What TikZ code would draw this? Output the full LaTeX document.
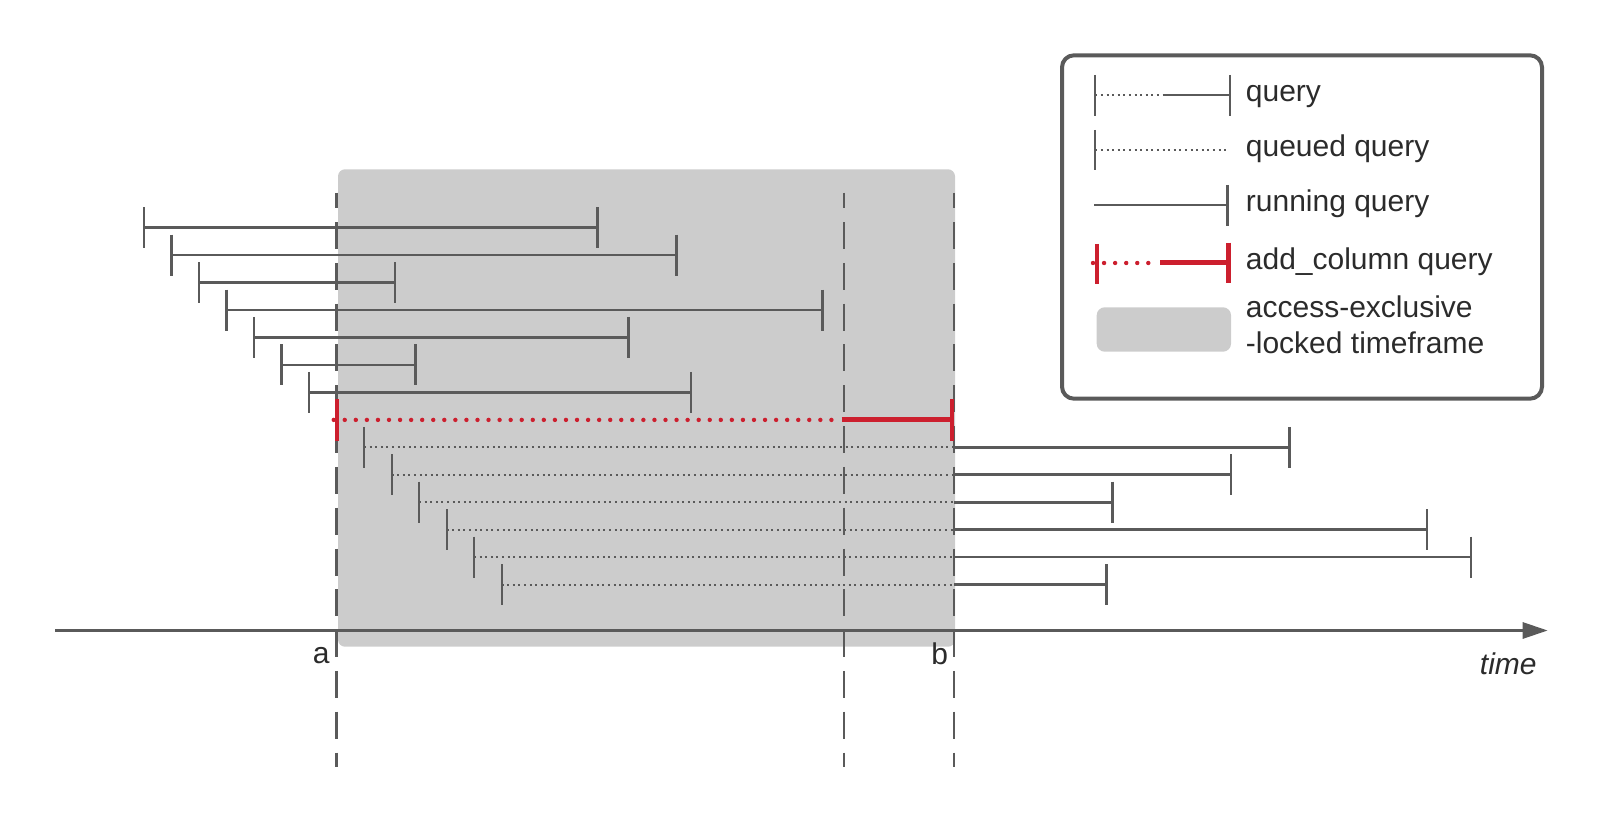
\documentclass[tikz,border=0pt]{standalone}
\usepackage{fontspec}
\setmainfont{Liberation Sans}
\usepackage{xcolor}
\usepackage{tikz}
\usetikzlibrary{arrows.meta,positioning,calc}

\definecolor{lineg}{HTML}{5A5A5A}
\definecolor{lockg}{HTML}{CCCCCC}
\definecolor{addred}{HTML}{CC1F2E}
\definecolor{txt}{HTML}{2B2B2B}

\begin{document}
\begin{tikzpicture}[
  x=0.5pt, y=-0.5pt,
  run/.style={draw=lineg, line width=1.35pt},
  tick/.style={draw=lineg, line width=1.4pt},
  qtick/.style={draw=lineg, line width=1pt},
  qdots/.style={draw=lineg, line width=1pt, dash pattern=on 1pt off 1.8pt},
  rdots/.style={draw=addred, line width=2.2pt, line cap=round, dash pattern=on 0pt off 5.53pt},
  rline/.style={draw=addred, line width=2.5pt},
  rtick/.style={draw=addred, line width=2.2pt},
  vdash/.style={draw=lineg, line width=1.25pt, dash pattern=on 13.5pt off 6.9pt, dash phase=5.7pt},
  lbl/.style={font=\fontsize{15pt}{18pt}\selectfont, text=txt, inner sep=0pt, anchor=base west}
]
\useasboundingbox (0,0) rectangle (1600,823);

% locked timeframe
\fill[lockg, rounded corners=3.5pt] (338,169.3) rectangle (955,646.7);

\coordinate (a) at (336.7,630.5);
\coordinate (c) at (844,630.5);
\coordinate (b) at (954,630.5);
\coordinate (top) at (0,192.7);
\coordinate (bot) at (0,767);
\foreach \p in {a,c,b}
  \draw[vdash] (\p |- top) -- (\p |- bot);

% queries running before a
\foreach \i/\e in {0/597.7,1/676.3,2/395,3/822.3,4/628.7,5/415.3,6/691}{
  \pgfmathsetmacro\xs{144+27.5*\i}
  \pgfmathsetmacro\ys{227.7+27.45*\i}
  \draw[run] (\xs,\ys) -- (\e,\ys);
  \draw[tick] (\xs,\ys-20.5) -- (\xs,\ys+20.5);
  \draw[tick] (\e,\ys-20.5) -- (\e,\ys+20.5);
}

% add_column query
\draw[rdots] (333.7,419.9) -- (831.6,419.9);
\draw[rline] (841.7,419.9) -- (952,419.9);
\draw[rtick] (336.7,399.3) -- (336.7,440.7);
\draw[rtick] (952,399.3) -- (952,440.7);

% queued queries
\foreach \i/\e in {8/1289.7,9/1231,10/1112.5,11/1427,12/1471,13/1106.5}{
  \pgfmathsetmacro\xs{144+27.5*\i}
  \pgfmathsetmacro\ys{227.7+27.45*\i}
  \draw[qdots] (\xs,\ys) -- (954,\ys);
  \draw[run] (954,\ys) -- (\e,\ys);
  \draw[qtick] (\xs,\ys-20.5) -- (\xs,\ys+20.5);
  \draw[tick] (\e,\ys-20.5) -- (\e,\ys+20.5);
}

% time axis
\draw[lineg, line width=1.5pt, -{Triangle[length=12.5pt,width=8pt]}] (55,630.5) -- (1547.7,630.5);
\node[lbl, anchor=base east] (la) at (330,663.3) {a};
\node[lbl, anchor=base east] (lb) at (948.5,664.3) {b};
\node[lbl, anchor=base east, font={\fontsize{15pt}{18pt}\selectfont\itshape}] (lt) at (1537,674) {time};

% legend
\draw[lineg, line width=2pt, rounded corners=6pt] (1062,55.3) rectangle (1542,398.7);
\draw[qtick] (1095.3,75) -- (1095.3,115.7);
\draw[qdots] (1095.3,95) -- (1163,95);
\draw[run] (1163,95) -- (1230,95);
\draw[tick] (1230,75) -- (1230,115.7);
\draw[qtick] (1095.3,130) -- (1095.3,170);
\draw[qdots] (1095.3,150) -- (1229,150);
\draw[run] (1094.3,205) -- (1227.3,205);
\draw[tick] (1227.3,185) -- (1227.3,225.7);
\draw[rdots] (1093,263) -- (1151,263);
\draw[rline] (1160,263) -- (1228.3,263);
\draw[rtick] (1096.7,244) -- (1096.7,284);
\draw[rtick] (1228.3,242.7) -- (1228.3,283.3);
\fill[lockg, rounded corners=4pt] (1096.7,307.3) rectangle (1231,351.7);

\node[lbl] (lq) at (1245.5,101.7) {query};
\node[lbl] (lqq) at (1245.5,156.7) {queued query};
\node[lbl] (lrq) at (1245.5,211.7) {running query};
\node[lbl] (laq) at (1245.5,270) {add\_column query};
\node[lbl] (lx1) at (1245.5,317.7) {access-exclusive};
\node[lbl] (lx2) at (1245.5,354) {-locked timeframe};
\end{tikzpicture}
\end{document}
